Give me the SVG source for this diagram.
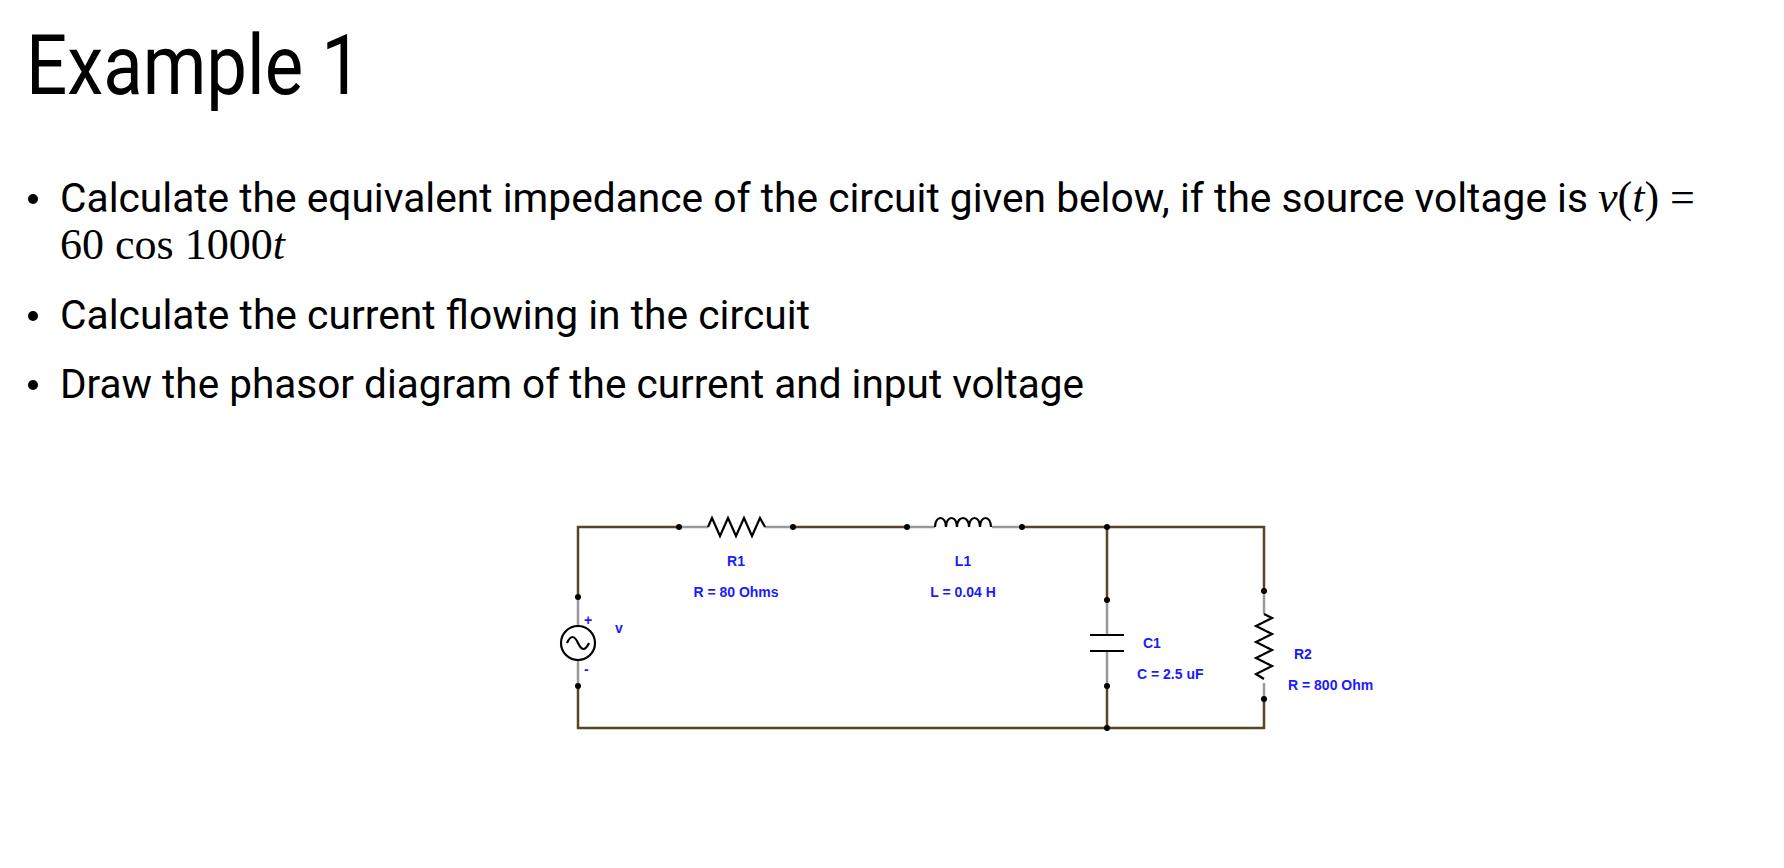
<svg xmlns="http://www.w3.org/2000/svg" width="1784" height="868" viewBox="0 0 1784 868">
<style>
.t{font-family:Roboto,"Liberation Sans",sans-serif;fill:#000}
.m{font-family:"Liberation Serif","DejaVu Serif",serif;fill:#000}
.w{stroke:#5a4426;stroke-width:2.5;fill:none}
.g{stroke:#999;stroke-width:2.5;fill:none}
.k{stroke:#000;stroke-width:2.2;fill:none}
.d{fill:#000}
.l{font-family:"Liberation Sans",Arial,sans-serif;font-weight:bold;font-size:14px;fill:#1a1aff}
</style>
<defs><clipPath id="cp"><rect x="1280" y="660" width="93" height="40"/></clipPath></defs>
<rect width="1784" height="868" fill="#fff"/>
<text class="t" x="26" y="94" font-size="84" textLength="336" lengthAdjust="spacingAndGlyphs">Example 1</text>
<g font-size="41">
<circle cx="33" cy="199" r="5" class="d"/>
<text class="t" x="60" y="212" textLength="1528" lengthAdjust="spacingAndGlyphs">Calculate the equivalent impedance of the circuit given below, if the source voltage is</text>
<text class="m" x="1598" y="212" font-size="44"><tspan font-style="italic">v</tspan>(<tspan font-style="italic">t</tspan>) =</text>
<text class="m" x="60" y="259" font-size="44">60 cos 1000<tspan font-style="italic">t</tspan></text>
<circle cx="33" cy="316" r="5" class="d"/>
<text class="t" x="60" y="329" textLength="750" lengthAdjust="spacingAndGlyphs">Calculate the current flowing in the circuit</text>
<circle cx="33" cy="385" r="5" class="d"/>
<text class="t" x="60" y="398" textLength="1024" lengthAdjust="spacingAndGlyphs">Draw the phasor diagram of the current and input voltage</text>
</g>
<g id="connectors">
<path class="w" d="M578 597V527H679M793 527H907M1022 527H1264V591M1264 699V728H578V686M1107 527V600M1107 686V728"/>
</g>
<g id="V">
<path class="g" d="M578 597V626M578 660V686"/>
<circle cx="578" cy="643" r="17" class="k"/>
<path class="k" d="M567 643q5.5-12 11 0t11 0"/>
<circle cx="578" cy="597" r="3" class="d"/><circle cx="578" cy="686" r="3" class="d"/>
<text class="l" x="584" y="625" font-size="15" fill="#000">+</text>
<text class="l" x="584" y="674" font-size="15" fill="#555">-</text>
<text class="l" x="615" y="633" font-size="12">v</text>
</g>
<g id="R1">
<path class="g" d="M679 527H708M765 527H793"/>
<path class="k" d="M708 527l4-9 8 18 8-18 8 18 8-18 8 18 8-18 5 9"/>
<circle cx="679" cy="527" r="3" class="d"/><circle cx="793" cy="527" r="3" class="d"/>
<text class="l" x="736" y="566" text-anchor="middle">R1</text>
<text class="l" x="736" y="597" text-anchor="middle">R = 80 Ohms</text>
</g>
<g id="L1">
<path class="g" d="M907 527H935M992 527H1022"/>
<path class="k" d="M935 527c0-12 11-12 11 0c0-12 11-12 11 0c0-12 12-12 12 0c0-12 11-12 11 0c0-12 11-12 11 0"/>
<circle cx="907" cy="527" r="3" class="d"/><circle cx="1022" cy="527" r="3" class="d"/>
<text class="l" x="963" y="566" text-anchor="middle">L1</text>
<text class="l" x="963" y="597" text-anchor="middle">L = 0.04 H</text>
</g>
<g id="C1">
<path class="g" d="M1107 600V635M1107 651V686"/>
<path class="k" d="M1090 635H1124M1090 651H1124" stroke-width="3"/>
<circle cx="1107" cy="600" r="3" class="d"/><circle cx="1107" cy="686" r="3" class="d"/>
<circle cx="1107" cy="527" r="3" class="d"/><circle cx="1107" cy="728" r="3" class="d"/>
<text class="l" x="1143" y="648">C1</text>
<text class="l" x="1137" y="679">C = 2.5 uF</text>
</g>
<g id="R2">
<path class="g" d="M1264 591V614M1264 683V699"/>
<path class="k" d="M1264 614l8 4-16 8 16 8-16 8 16 8-16 8 16 8-16 8 8 5"/>
<circle cx="1264" cy="591" r="3" class="d"/><circle cx="1264" cy="699" r="3" class="d"/>
<text class="l" x="1294" y="659">R2</text>
<text class="l" x="1288" y="690" clip-path="url(#cp)">R = 800 Ohms</text>
</g>
</svg>
